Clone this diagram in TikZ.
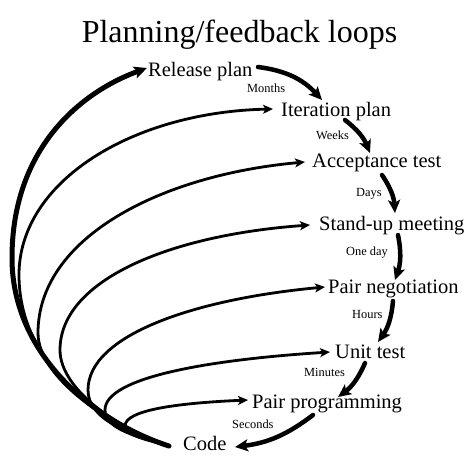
\documentclass[tikz,border=0pt]{standalone}
\usepackage{fontspec}
\setmainfont{Liberation Serif}
\usetikzlibrary{arrows.meta}
\tikzset{
  main/.style={anchor=base west, inner sep=0pt, font=\fontsize{20.5}{24}\selectfont},
  lbl/.style={anchor=base west, inner sep=0pt, font=\fontsize{12.4}{14}\selectfont},
  chainarrow/.style={line width=4.5pt, line cap=round, -{Stealth[length=13pt,width=12pt,inset=3pt]}},
  arcthin/.style={line width=2.8pt, line cap=round, -{Stealth[length=10pt,width=9pt,inset=2.5pt]}},
  arcthick/.style={line width=5pt, line cap=round, -{Stealth[length=13pt,width=12pt,inset=3pt]}}
}
\begin{document}
\begin{tikzpicture}[x=1pt,y=-1pt]
\path[use as bounding box, fill=white] (0,0) rectangle (473,461);
% title
\node[anchor=base, inner sep=0pt, font=\fontsize{32}{36}\selectfont] (title) at (239.5,42) {Planning/feedback loops};
% main nodes
\node[main] (release) at (148,76) {Release plan};
\node[main] (iter) at (281,116) {Iteration plan};
\node[main] (accept) at (312,167) {Acceptance test};
\node[main] (standup) at (319,230) {Stand-up meeting};
\node[main] (pairneg) at (328,293) {Pair negotiation};
\node[main] (unit) at (335,358) {Unit test};
\node[main] (pairprog) at (252,408) {Pair programming};
\node[main] (code) at (183,450) {Code};
% labels
\node[lbl] (months) at (247,92) {Months};
\node[lbl] (weeks) at (316,139) {Weeks};
\node[lbl] (days) at (356,196) {Days};
\node[lbl] (oneday) at (346,255) {One day};
\node[lbl] (hours) at (352,318) {Hours};
\node[lbl] (minutes) at (304,376) {Minutes};
\node[lbl] (seconds) at (232,428) {Seconds};
% chain arrows
\draw[chainarrow] ([shift={(110,-9)}]release.base west) to[bend left=20] ([shift={(41,-16)}]iter.base west);
\draw[chainarrow] ([shift={(64,4)}]iter.base west) to[bend left=15] ([shift={(58,-14)}]accept.base west);
\draw[chainarrow] ([shift={(70,8)}]accept.base west) to[bend left=15] ([shift={(76,-17)}]standup.base west);
\draw[chainarrow] ([shift={(79,5)}]standup.base west) to[bend left=15] ([shift={(67,-13)}]pairneg.base west);
\draw[chainarrow] ([shift={(65,8)}]pairneg.base west) to[bend left=15] ([shift={(43,-16)}]unit.base west);
\draw[chainarrow] ([shift={(30,5)}]unit.base west) to[bend left=15] ([shift={(86,-11)}]pairprog.base west);
\draw[chainarrow] ([shift={(61,7)}]pairprog.base west) to[bend left=15] ([shift={(52,-3)}]code.base west);
% feedback arcs from Code
\draw[arcthick] ([shift={(-14,-4)}]code.base west) .. controls (92,421) and (12,353) .. (12,258)
  .. controls (12,148) and (81,92) .. ([shift={(-1,-8)}]release.base west);
\draw[arcthin] ([shift={(-14,-4)}]code.base west) .. controls (92,421) and (19,360) .. (19,275)
  .. controls (19,181) and (133,112) .. ([shift={(-8,-7)}]iter.base west);
\draw[arcthin] ([shift={(-14,-4)}]code.base west) .. controls (111,427) and (38,378) .. (38,333)
  .. controls (38,238) and (160,175) .. ([shift={(-7,-5)}]accept.base west);
\draw[arcthin] ([shift={(-14,-4)}]code.base west) .. controls (120,430) and (60,390) .. (60,350)
  .. controls (60,280) and (170,235) .. ([shift={(-9,-5)}]standup.base west);
\draw[arcthin] ([shift={(-14,-4)}]code.base west) .. controls (130,434) and (88,420) .. (88,390)
  .. controls (88,335) and (195,299) .. ([shift={(-3,-6)}]pairneg.base west);
\draw[arcthin] ([shift={(-14,-4)}]code.base west) .. controls (140,437) and (105,430) .. (105,410)
  .. controls (105,378) and (205,360) .. ([shift={(-5,-6)}]unit.base west);
\draw[arcthin] ([shift={(-14,-4)}]code.base west) .. controls (149,440) and (125,436) .. (125,426)
  .. controls (125,410) and (178,403) .. ([shift={(-4,-8)}]pairprog.base west);
\end{tikzpicture}
\end{document}
